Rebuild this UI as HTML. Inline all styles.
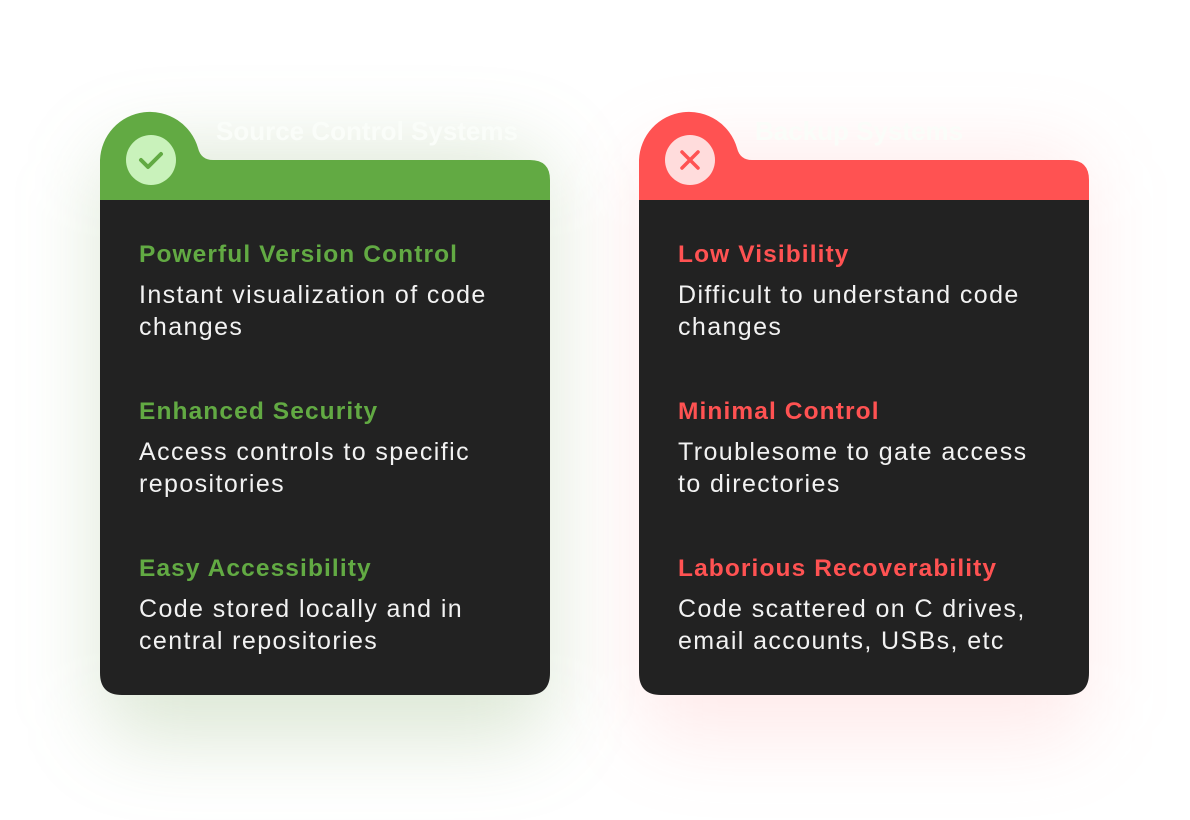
<!DOCTYPE html>
<html><head><meta charset="utf-8"><style>
html,body{margin:0;padding:0;background:#fff;}
.wrap{position:relative;width:1190px;height:820px;overflow:hidden;background:#fff;font-family:"Liberation Sans",sans-serif;}
.glow{position:absolute;border-radius:40px;filter:blur(40px);}
.t{position:absolute;white-space:nowrap;}
.h{font-size:24.5px;font-weight:bold;letter-spacing:1.1px;}
.b{font-size:25px;color:#f2f2f2;line-height:32px;letter-spacing:1.4px;}
.title{font-size:26px;font-weight:bold;color:#fafdf9;}
</style></head><body><div class="wrap">
<div class="glow" style="left:100px;top:150px;width:450px;height:590px;background:rgba(98,150,70,0.22);"></div>
<div class="glow" style="left:639px;top:150px;width:450px;height:590px;background:rgba(255,90,90,0.12);"></div>
<svg width="1190" height="820" style="position:absolute;left:0;top:0">
  <path d="M100,201 L100,160 A50,50 0 0 1 198,148 Q201,160 213,160 L530,160 Q550,160 550,180 L550,201 Z" fill="#62AA43"/>
  <path d="M100,200 L550,200 L550,673 Q550,695 528,695 L122,695 Q100,695 100,673 Z" fill="#222222"/>
  <circle cx="151" cy="160" r="25" fill="#c9f2bb"/>
  <path d="M141,160 L148,167 L161,154" stroke="#62AA43" stroke-width="4" fill="none" stroke-linecap="round" stroke-linejoin="round"/>
  <path d="M639,201 L639,160 A50,50 0 0 1 737,148 Q740,160 752,160 L1069,160 Q1089,160 1089,180 L1089,201 Z" fill="#FF5252"/>
  <path d="M639,200 L1089,200 L1089,673 Q1089,695 1067,695 L661,695 Q639,695 639,673 Z" fill="#222222"/>
  <circle cx="690" cy="160" r="25" fill="#ffdcdc"/>
  <path d="M682,152 L698,168 M698,152 L682,168" stroke="#FF5252" stroke-width="3.5" stroke-linecap="round"/>
</svg>
<div class="t title" style="left:216px;top:116px;">Source Control Systems</div>
<div class="t title" style="left:755px;top:116px;">Backup Systems</div>

<div class="t h" style="left:139px;top:241px;color:#62AA43">Powerful Version Control</div>
<div class="t b" style="left:139px;top:279px;">Instant visualization of code<br>changes</div>
<div class="t h" style="left:139px;top:398px;color:#62AA43">Enhanced Security</div>
<div class="t b" style="left:139px;top:436px;">Access controls to specific<br>repositories</div>
<div class="t h" style="left:139px;top:555px;color:#62AA43">Easy Accessibility</div>
<div class="t b" style="left:139px;top:593px;">Code stored locally and in<br>central repositories</div>

<div class="t h" style="left:678px;top:241px;color:#FF5252">Low Visibility</div>
<div class="t b" style="left:678px;top:279px;">Difficult to understand code<br>changes</div>
<div class="t h" style="left:678px;top:398px;color:#FF5252">Minimal Control</div>
<div class="t b" style="left:678px;top:436px;">Troublesome to gate access<br>to directories</div>
<div class="t h" style="left:678px;top:555px;color:#FF5252">Laborious Recoverability</div>
<div class="t b" style="left:678px;top:593px;">Code scattered on C drives,<br>email accounts, USBs, etc</div>
</div></body></html>
